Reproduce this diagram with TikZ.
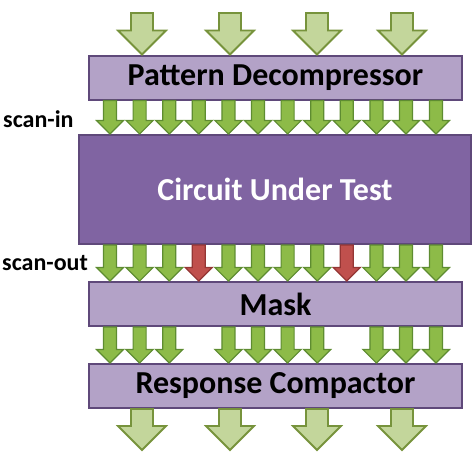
\documentclass[tikz,border=0pt]{standalone}
\usepackage{fontspec}
\setmainfont{Carlito}
\usepackage{xcolor}
\usetikzlibrary{calc}
\definecolor{lilac}{HTML}{B3A2C7}
\definecolor{plum}{HTML}{5F497A}
\definecolor{cutviolet}{HTML}{8064A2}
\definecolor{leaf}{HTML}{8DBB48}
\definecolor{leafdark}{HTML}{5E8C31}
\definecolor{pale}{HTML}{C3D69B}
\definecolor{oliveline}{HTML}{77933C}
\definecolor{fault}{HTML}{C0504D}
\definecolor{faultdark}{HTML}{943634}
\tikzstyle{unit} = [rectangle, draw=plum, line width=2pt, fill=lilac, inner sep=0pt,
  minimum width=373pt, minimum height=44pt, font=\bfseries\fontsize{32}{32}\selectfont]
\tikzstyle{core} = [unit, fill=cutviolet, text=white, minimum width=392pt, minimum height=109pt]
\tikzstyle{side} = [anchor=west, inner sep=0pt, font=\bfseries\fontsize{24}{24}\selectfont]
\tikzstyle{scan} = [draw=leafdark, line width=1.2pt, fill=leaf]
\tikzstyle{masked} = [scan, draw=faultdark, fill=fault]
\tikzstyle{wide} = [draw=oliveline, line width=1.8pt, fill=pale]
% block arrow: style, x, from, to, half shaft, half head
\newcommand{\pipe}[6]{%
  \path[#1] let \p1 = (#3), \p2 = (#4) in
    (#2*1pt-#5*1pt,\y1) -- (#2*1pt+#5*1pt,\y1) -- (#2*1pt+#5*1pt,\y2+#6pt)
    -- (#2*1pt+#6*1pt,\y2+#6pt) -- (#2*1pt,\y2) -- (#2*1pt-#6*1pt,\y2+#6pt)
    -- (#2*1pt-#5*1pt,\y2+#6pt) -- cycle;}

\begin{document}
\begin{tikzpicture}[x=1pt, y=1pt]
    \useasboundingbox (0,0) rectangle (474,-474);
    %%% Blocks:
    \node[unit] (dec) at (275.5,-77.5) {Pattern Decompressor};
    \node[core] (cut) at (275,-189.5) {Circuit Under Test};
    \node[unit] (mask) at (275.5,-304) {Mask};
    \node[unit] (comp) at (275.5,-386) {Response Compactor};
    \node[side] (scanin) at (3,-119) {scan-in};
    \node[side] (scanout) at (2,-263) {scan-out};
    \coordinate (in) at (0,-13);
    \coordinate (out) at (0,-450);
    %%% Compressed stimuli and responses:
    \foreach \px in {142,230,317,402} {
      \pipe{wide}{\px}{in}{dec.north}{11}{24}
      \pipe{wide}{\px}{comp.south}{out}{11}{24}
    }
    %%% Scan chains:
    \foreach \px in {110,139.6,169.2,198.8,228.4,258,287.6,317.2,346.8,376.4,406,436} {
      \pipe{scan}{\px}{dec.south}{cut.north}{6.5}{13.5}
    }
    \foreach \px in {110,139.6,169.2,228.4,258,287.6,317.2,376.4,406,436} {
      \pipe{scan}{\px}{cut.south}{mask.north}{6.5}{13.5}
      \pipe{scan}{\px}{mask.south}{comp.north}{6.5}{13.5}
    }
    \foreach \px in {198.8,346.8} {
      \pipe{masked}{\px}{cut.south}{mask.north}{6.5}{13.5}
    }
  \end{tikzpicture}
\end{document}
